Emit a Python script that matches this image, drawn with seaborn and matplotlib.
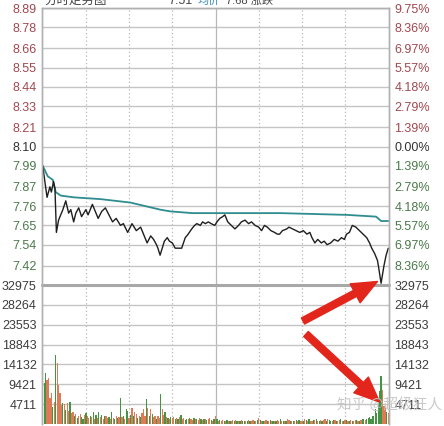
import numpy as np
import pandas as pd
import matplotlib
matplotlib.use("Agg")
import matplotlib.pyplot as plt
import seaborn as sns

# intraday price (minute from open, price)
price_minute = [0, 1, 3, 5, 6, 7.5, 8.5, 9.5, 11, 12.5,
                14, 16, 18, 19.5, 21.5, 23, 25, 27, 28.5, 30,
                31.5, 34.5, 36, 38.5, 41, 43.5, 46, 48.5, 51, 54,
                56, 59, 62, 65, 68, 70, 72.5, 75, 77, 79,
                80, 81.5, 83, 84.5, 86.5, 88, 90, 92, 94, 96.5,
                99, 101, 103.5, 105.5, 107, 109.5, 111, 113, 115, 117,
                119.5, 121, 123, 125, 126.5, 128.5, 131, 133.5, 136, 138,
                140.5, 143, 145, 147.5, 150, 152, 154, 156, 158.5, 161,
                163, 164.5, 166.5, 169.5, 171, 173.5, 176, 178.5, 181, 183.5,
                185.5, 187, 189, 191, 193.5, 195.5, 197.5, 200, 202.5, 205,
                207.5, 209.5, 211, 213, 215, 217.5, 220, 222.5, 225, 227,
                228.5, 230.5, 232.5, 233.5, 235, 236, 237, 238.5, 240]
price_value = [7.99, 7.93, 7.81, 7.87, 7.84, 7.90, 7.86, 7.61, 7.68, 7.71,
               7.74, 7.79, 7.72, 7.74, 7.67, 7.72, 7.75, 7.70, 7.72, 7.74,
               7.71, 7.77, 7.74, 7.69, 7.73, 7.75, 7.71, 7.67, 7.69, 7.65,
               7.66, 7.61, 7.66, 7.62, 7.64, 7.60, 7.55, 7.59, 7.57, 7.54,
               7.52, 7.48, 7.52, 7.56, 7.58, 7.56, 7.55, 7.52, 7.52, 7.52,
               7.58, 7.60, 7.63, 7.65, 7.66, 7.65, 7.67, 7.66, 7.67, 7.66,
               7.65, 7.67, 7.69, 7.70, 7.71, 7.67, 7.65, 7.63, 7.65, 7.67,
               7.68, 7.66, 7.67, 7.65, 7.64, 7.62, 7.65, 7.64, 7.62, 7.61,
               7.60, 7.60, 7.62, 7.63, 7.64, 7.63, 7.62, 7.61, 7.62, 7.60,
               7.61, 7.58, 7.55, 7.57, 7.55, 7.56, 7.54, 7.55, 7.57, 7.56,
               7.58, 7.57, 7.60, 7.61, 7.65, 7.64, 7.62, 7.60, 7.58, 7.55,
               7.52, 7.49, 7.45, 7.40, 7.32, 7.37, 7.42, 7.48, 7.52]

# average price line
avg_minute = [0, 3.5, 7, 9, 12.5, 21.5, 40, 61, 81.5, 88.5, 104, 150, 165, 211, 231.5, 235, 240]
avg_value = [7.99, 7.93, 7.91, 7.84, 7.82, 7.81, 7.80, 7.78, 7.74, 7.73, 7.72, 7.72, 7.72, 7.71, 7.70, 7.675, 7.675]

# volume per minute (0..240) and bar direction (g = down, r = up)
volume = [30800, 9800, 12100, 10400, 11000, 6100, 7300, 4000, 5200, 16400, 14500, 9300, 7300, 4500, 4900, 4700, 3300, 4900, 3000, 5200,
          2500, 2800, 1900, 2400, 1500, 1900, 2300, 1600, 1200, 2100, 2500, 1800, 1400, 2000, 1700, 2900, 1300, 2200, 1500, 2900,
          1600, 2100, 1200, 1800, 1900, 1400, 1700, 1300, 2900, 1500, 1100, 2000, 1400, 1700, 6100, 1600, 1900, 1200, 3500, 3000,
          1500, 2200, 3900, 1800, 2900, 2300, 1400, 1900, 1700, 2600, 3500, 2000, 5900, 3900, 1800, 3500, 2400, 1600, 1900, 1300,
          1800, 1500, 7100, 3500, 2100, 2900, 1700, 1500, 1200, 1600, 1400, 1700, 1300, 1500, 1100, 1700, 2200, 1200, 1400, 1000,
          1300, 1100, 1500, 1200, 1000, 1400, 1100, 1300, 900, 1500, 1200, 1000, 1300, 1100, 900, 1200, 1400, 1000, 800, 1100,
          1900, 1200, 800, 900, 700, 1000, 800, 600, 900, 700, 800, 600, 900, 700, 1000, 800, 600, 700, 900, 800,
          700, 600, 800, 900, 700, 600, 1000, 800, 700, 900, 1500, 1000, 800, 700, 600, 900, 800, 700, 1000, 800,
          700, 600, 800, 900, 700, 1100, 800, 600, 700, 800, 1300, 900, 700, 800, 600, 700, 900, 800, 1000, 700,
          600, 800, 1100, 900, 700, 1300, 800, 600, 900, 1000, 1200, 800, 700, 900, 600, 1000, 1100, 800, 1300, 900,
          700, 800, 1000, 900, 700, 600, 900, 1100, 800, 700, 900, 1000, 800, 600, 900, 700, 800, 1000, 900, 700,
          800, 1000, 1200, 1300, 900, 1100, 1400, 1600, 1200, 2000, 1800, 3500, 2500, 5900, 7900, 11400, 8000, 4300, 3900, 2900, 2500]
direction = ("gggrrrrgrgrrrrgrgrrg" "rrgrgrrggrgrrgrgrgrg" "rgrgrrgrgrgrgrgrgrgg"
             "rgrgrrgrgrrrgrgrgrrg" "rrgrrgrgrgrrgrgrgrrg" "grgrrgrgrrgrgrgrrgrg"
             "rgrgrrgrgrgrrgrgrgrg" "grgrgrrgrgrgrgrrgrgr" "grgrrgrgrgrrgrgrgrgr"
             "rgrgrgrrgrgrgrgrrgrg" "grgrgrrgrgrgrgrgrrgr" "grggrgggggggggggrrrgr")

# axis labels
price_levels = [8.89, 8.78, 8.66, 8.55, 8.44, 8.33, 8.21, 8.10, 7.99, 7.87, 7.76, 7.65, 7.54, 7.42, 7.31]
price_labels = ["8.89", "8.78", "8.66", "8.55", "8.44", "8.33", "8.21", "8.10",
                "7.99", "7.87", "7.76", "7.65", "7.54", "7.42", ""]
pct_labels = ["9.75%", "8.36%", "6.97%", "5.57%", "4.18%", "2.79%", "1.39%", "0.00%",
              "1.39%", "2.79%", "4.18%", "5.57%", "6.97%", "8.36%", ""]
vol_levels = [4711, 9421, 14132, 18843, 23553, 28264, 32975]
half_hours = [30, 60, 90, 120, 150, 180, 210]

RED_TXT = "#a2484f"
GREEN_TXT = "#4a7a4a"
GRID = "#c4c4c4"

sns.set_style("white")
plt.rcParams["font.family"] = ["Liberation Sans", "Noto Sans CJK SC", "DejaVu Sans"]

fig = plt.figure(figsize=(4.44, 4.26), dpi=100)
x0, x1 = 42 / 444, (389 - 42) / 444
ax_p = fig.add_axes([x0, 1 - 285 / 426, x1, 277 / 426])
ax_v = fig.add_axes([x0, 2 / 426, x1, 139 / 426])

# price panel
for lvl in price_levels:
    ax_p.axhline(lvl, color=GRID, lw=1, zorder=0)
for m in half_hours:
    ax_p.axvline(m, color="#b8b8b8", lw=0.9, ls="-" if m == 120 else (0, (1, 2)), zorder=0)
    ax_v.axvline(m, color="#b8b8b8", lw=0.9, ls="-" if m == 120 else (0, (1, 2)), zorder=0)

sns.lineplot(x=avg_minute, y=avg_value, ax=ax_p, color="#2f8c8f", lw=1.3, estimator=None)
sns.lineplot(x=price_minute, y=price_value, ax=ax_p, color="#1e1e1e", lw=1.0, estimator=None)

ax_p.set_xlim(-0.5, 240.5)
ax_p.set_ylim(7.31, 8.89)
ax_p.set_yticks(price_levels, price_labels)
ax_p.set_xticks([])
ax_r = ax_p.twinx()
ax_r.set_ylim(7.31, 8.89)
ax_r.set_yticks(price_levels, pct_labels)

# volume panel
df = pd.DataFrame({"minute": np.arange(len(volume)), "volume": volume, "dir": list(direction)})
for lvl in vol_levels[:-1]:
    ax_v.axhline(lvl, color=GRID, lw=1, zorder=0)
sns.barplot(data=df, x="minute", y="volume", hue="dir", native_scale=True, dodge=False,
            palette={"g": "#449444", "r": "#df7a56"}, width=0.85, linewidth=0,
            saturation=1, errorbar=None, legend=False, ax=ax_v)
ax_v.axhline(32975, color="#a8a8a8", lw=2.2, zorder=3, clip_on=False)
ax_v.set_xlim(-0.5, 240.5)
ax_v.set_ylim(0, 32975)
ax_v.set_yticks(vol_levels, [str(v) for v in vol_levels])
ax_v.set_xticks([])
ax_vr = ax_v.twinx()
ax_vr.set_ylim(0, 32975)
ax_vr.set_yticks(vol_levels, [str(v) for v in vol_levels])

for a in (ax_p, ax_r, ax_v, ax_vr):
    a.tick_params(length=0, pad=4, labelsize=9)
    a.set_xlabel("")
    a.set_ylabel("")
    for s in a.spines.values():
        s.set_color("#b0b0b0")
        s.set_linewidth(1)
    a.spines["bottom"].set_visible(False)
ax_v.spines["top"].set_visible(False)
ax_vr.spines["top"].set_visible(False)

for a in (ax_p, ax_r):
    for lab, lvl in zip(a.get_yticklabels(), price_levels):
        lab.set_color(RED_TXT if lvl > 8.105 else (GREEN_TXT if lvl < 8.095 else "#333333"))
for a in (ax_v, ax_vr):
    for lab in a.get_yticklabels():
        lab.set_color("#3c3c3c")

# clipped header fragments
fig.text(44 / 444, 422 / 426, "分时走势图", fontsize=9, color="#444444", va="baseline")
fig.text(168 / 444, 422 / 426, "7.51", fontsize=9, color="#444444", va="baseline")
fig.text(198 / 444, 422 / 426, "均价", fontsize=8, color="#3a8fc0", va="baseline")
fig.text(226 / 444, 422 / 426, "7.68 涨跌", fontsize=8, color="#444444", va="baseline")

# red arrows, drawn on the topmost axes so the volume panel doesn't hide them
arrow = dict(arrowstyle="simple,head_length=1.3,head_width=1.1,tail_width=0.35",
             color="#e3261c", mutation_scale=14, shrinkA=0, shrinkB=0)
ax_vr.annotate("", xy=(232.5, 7.33), xycoords=ax_p.transData, xytext=(303, 105),
               textcoords="figure pixels", arrowprops=arrow, zorder=10, annotation_clip=False)
ax_vr.annotate("", xy=(234, 5200), xycoords=ax_v.transData, xytext=(306, 92),
               textcoords="figure pixels", arrowprops=arrow, zorder=10, annotation_clip=False)

# watermark
fig.text(337 / 444, 21 / 426, "知乎 @超级狂人", fontsize=10.5, color="#c4c4c4",
         va="center", family=["Noto Sans CJK SC", "DejaVu Sans"], alpha=0.9)

fig.savefig("out.png", dpi=100)
